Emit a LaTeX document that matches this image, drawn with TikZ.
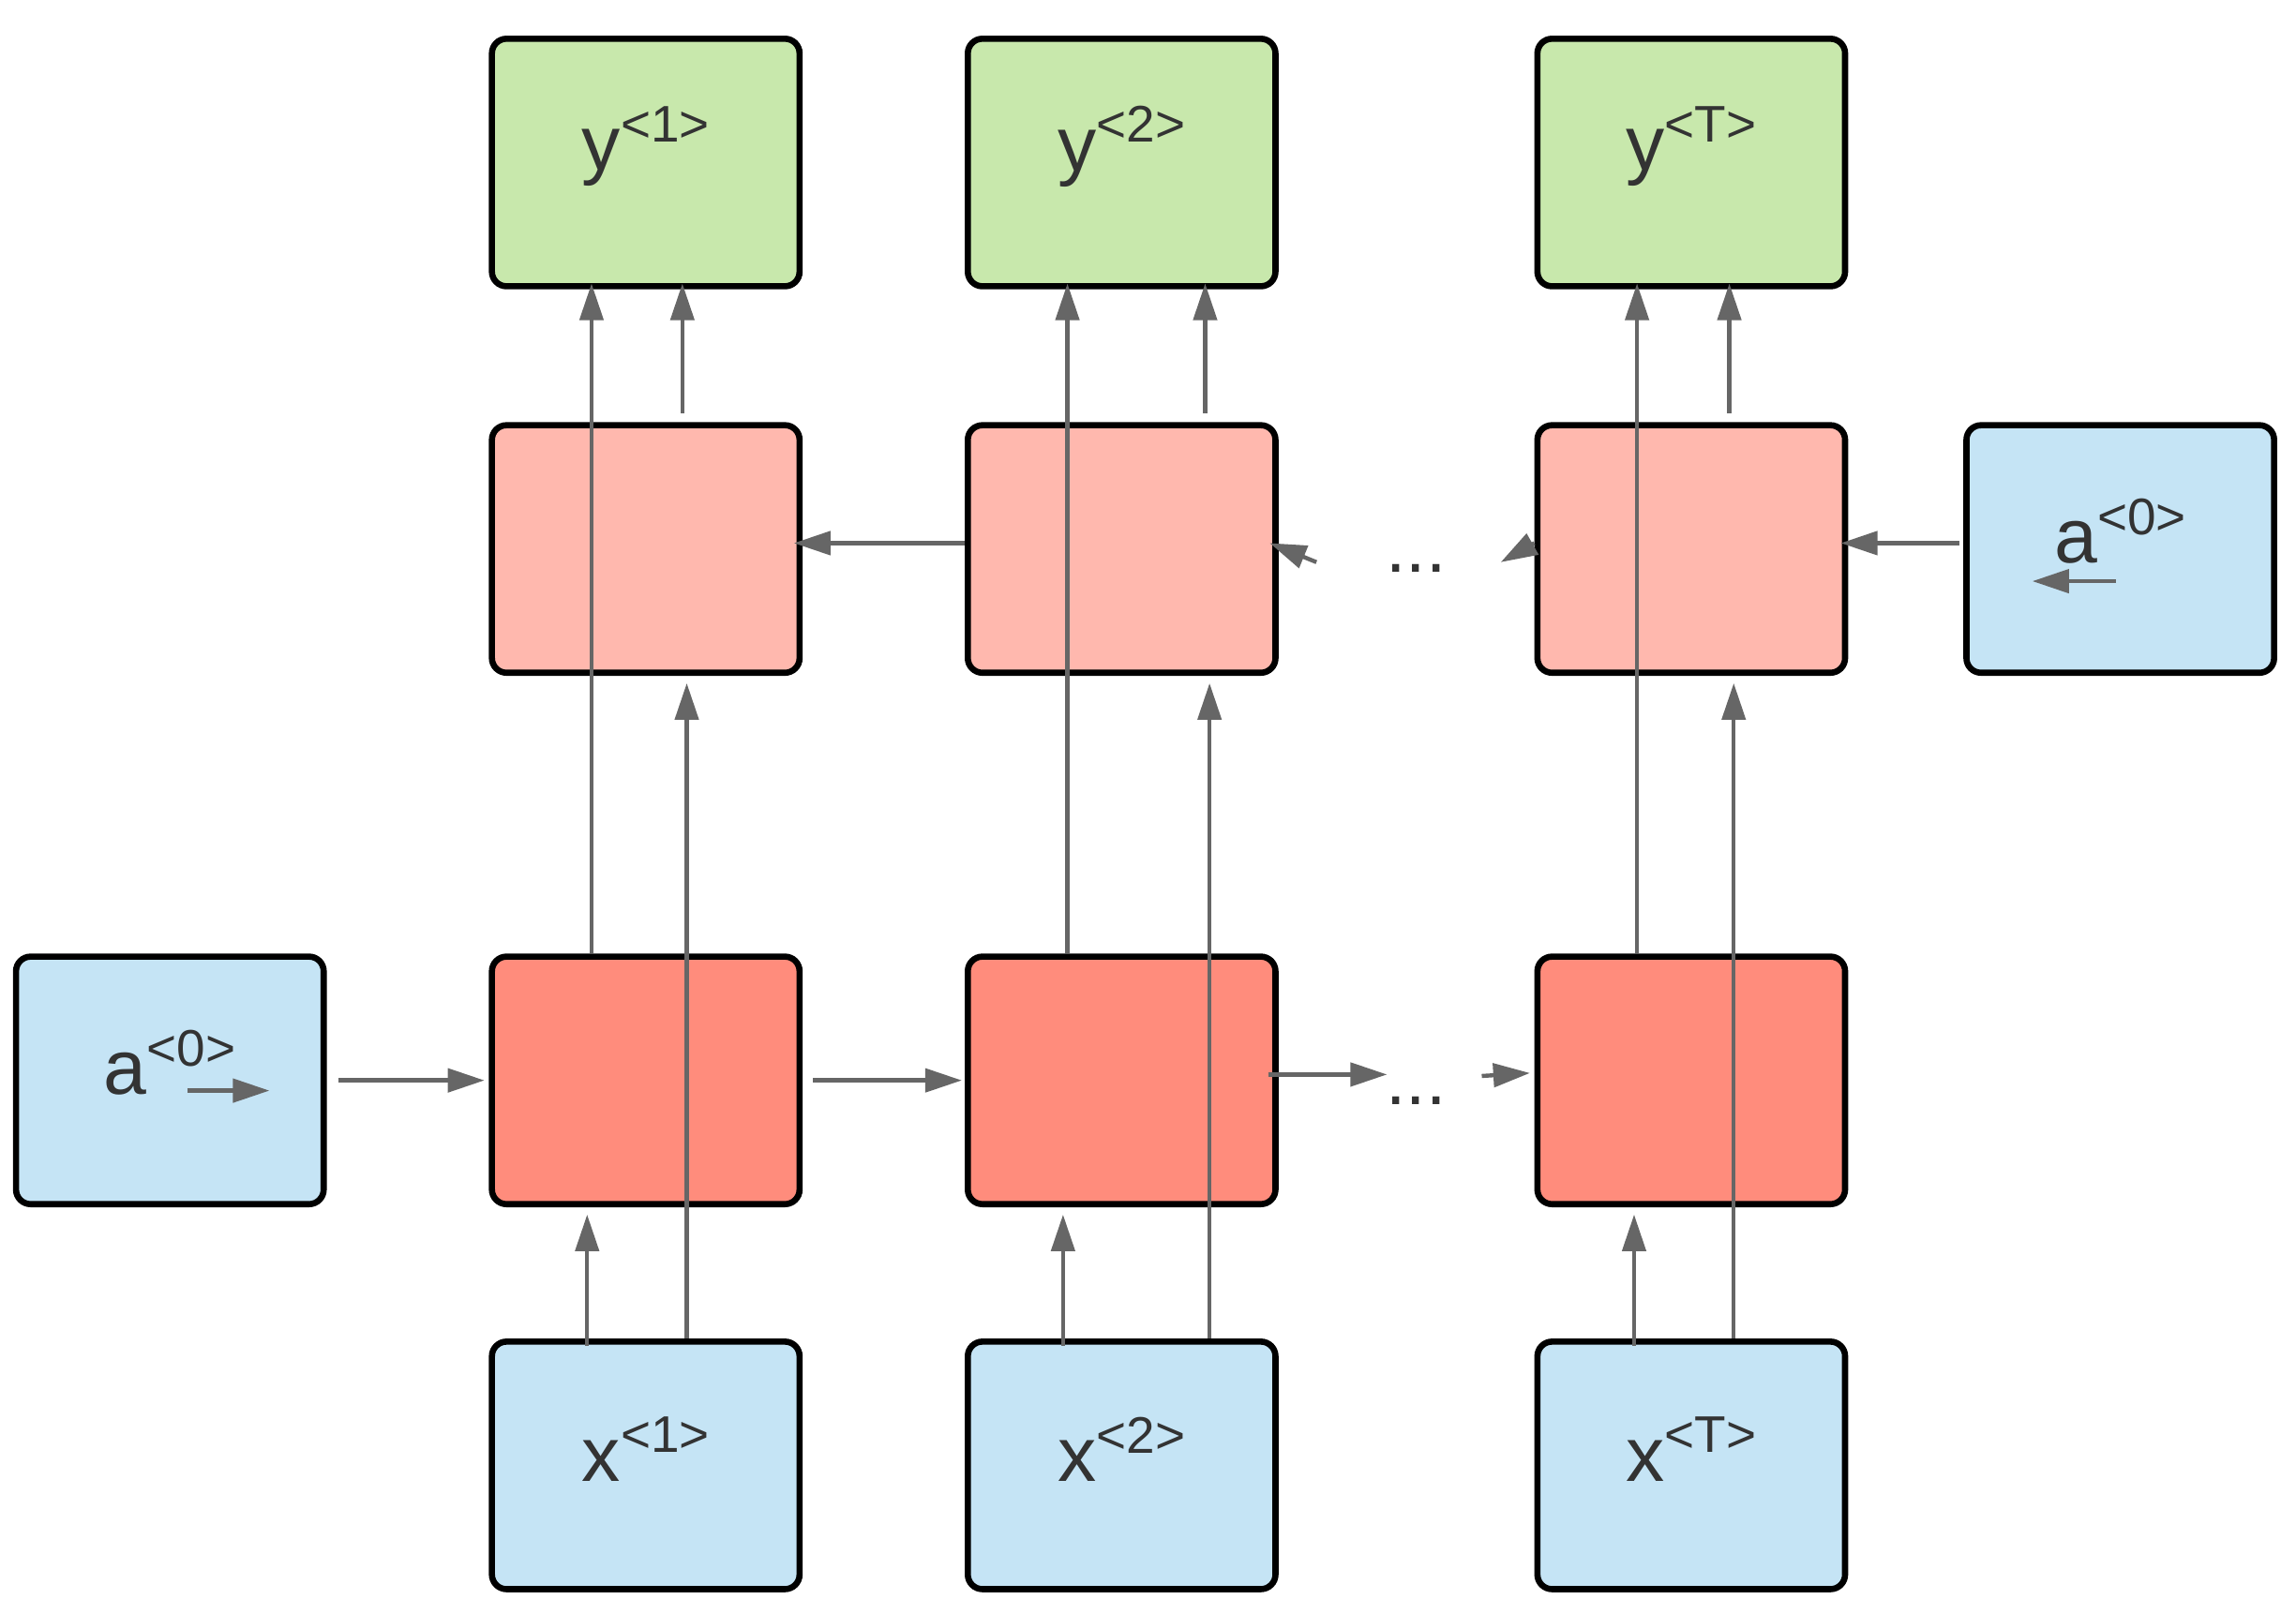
\documentclass[tikz,border=0pt]{standalone}
\usepackage{fontspec}
\setmainfont{Liberation Sans}
\usetikzlibrary{arrows.meta}
\definecolor{gr}{HTML}{C8E8AC}
\definecolor{pk}{HTML}{FFB8AE}
\definecolor{rd}{HTML}{FF8C7C}
\definecolor{bl}{HTML}{C5E4F5}
\definecolor{ar}{HTML}{666666}
\newcommand{\mylbl}[2]{{\fontsize{15}{18}\selectfont\color{black!80}#1\raisebox{0.7ex}{\fontsize{10}{12}\selectfont #2}}}
\begin{document}
\begin{tikzpicture}[x=0.01cm,y=-0.01cm,
 box/.style={draw=black,line width=1.2pt,rounded corners=0.1cm,minimum width=2.1cm,minimum height=1.69cm,inner sep=0pt},
 arr/.style={draw=ar,line width=0.8pt,-{Triangle[length=0.25cm,width=0.16cm]}},
 dots/.style={font=\fontsize{14}{16}\selectfont,text=black!80}]
\useasboundingbox (0,0) rectangle (1568,1102);
\foreach \n/\x in {1/441,2/766,3/1155}{
 \node[box,fill=gr] (y\n) at (\x,111) {};
 \node[box,fill=pk] (p\n) at (\x,375) {};
 \node[box,fill=rd] (r\n) at (\x,738) {};
 \node[box,fill=bl] (x\n) at (\x,1001) {};
}
\node (ty1) at (441,100) {\mylbl{y}{<1>}};
\node (ty2) at (766,100) {\mylbl{y}{<2>}};
\node (ty3) at (1155,100) {\mylbl{y}{<T>}};
\node (tx1) at (441,990) {\mylbl{x}{<1>}};
\node (tx2) at (766,990) {\mylbl{x}{<2>}};
\node (tx3) at (1155,990) {\mylbl{x}{<T>}};
\node[box,fill=bl] (aL) at (116,738) {};
\node[box,fill=bl] (aR) at (1448,375) {};
\node (taL) at (116,726) {\mylbl{a}{<0>}};
\node (taR) at (1448,363) {\mylbl{a}{<0>}};
\coordinate (aLs) at (128,745); \coordinate (aLe) at (184,745);
\draw[arr] (aLs) -- (aLe);
\coordinate (aRs) at (1445,397); \coordinate (aRe) at (1388,397);
\draw[arr] (aRs) -- (aRe);
% vertical
\foreach \n/\a/\b/\c/\d in {1/-0.40/0.28/-0.37/0.25, 2/-0.40/0.60/-0.37/0.57, 3/-0.39/0.29/-0.37/0.26}{
 \draw[arr] ([xshift=\a cm,yshift=-0.05cm]x\n.north) -- ([xshift=\a cm,yshift=-0.05cm]r\n.south);
 \draw[arr] ([xshift=\b cm]x\n.north) -- ([xshift=\b cm,yshift=-0.05cm]p\n.south);
 \draw[arr] ([xshift=\c cm]r\n.north) -- ([xshift=\c cm,yshift=0.04cm]y\n.south);
 \draw[arr] ([xshift=\d cm,yshift=0.06cm]p\n.north) -- ([xshift=\d cm,yshift=0.04cm]y\n.south);
}
% dots
\node[dots] (d1) at (967,752) {...};
\node[dots] (d2) at (967,388) {...};
% horizontal bottom
\draw[arr] ([xshift=0.08cm]aL.east) -- ([xshift=-0.03cm]r1.west);
\draw[arr] ([xshift=0.07cm]r1.east) -- ([xshift=-0.02cm]r2.west);
\draw[arr] ([xshift=-0.07cm,yshift=0.04cm]r2.east) -- ([xshift=0.74cm,yshift=0.04cm]r2.east);
\draw[arr] ([xshift=0.12cm,yshift=0.17cm]d1.east) -- ([xshift=-0.03cm,yshift=0.05cm]r3.west);
% horizontal top
\draw[arr] ([xshift=-0.03cm,yshift=0.04cm]aR.west) -- ([xshift=-0.05cm,yshift=0.04cm]p3.east);
\draw[arr] ([yshift=0.04cm]p3.west) -- ([xshift=0.25cm,yshift=0.04cm]d2.east);
\draw[arr] ([xshift=-0.35cm,yshift=0.04cm]d2.west) -- ([xshift=-0.06cm,yshift=0.04cm]p2.east);
\draw[arr] ([yshift=0.04cm]p2.west) -- ([xshift=-0.06cm,yshift=0.04cm]p1.east);
\end{tikzpicture}
\end{document}
